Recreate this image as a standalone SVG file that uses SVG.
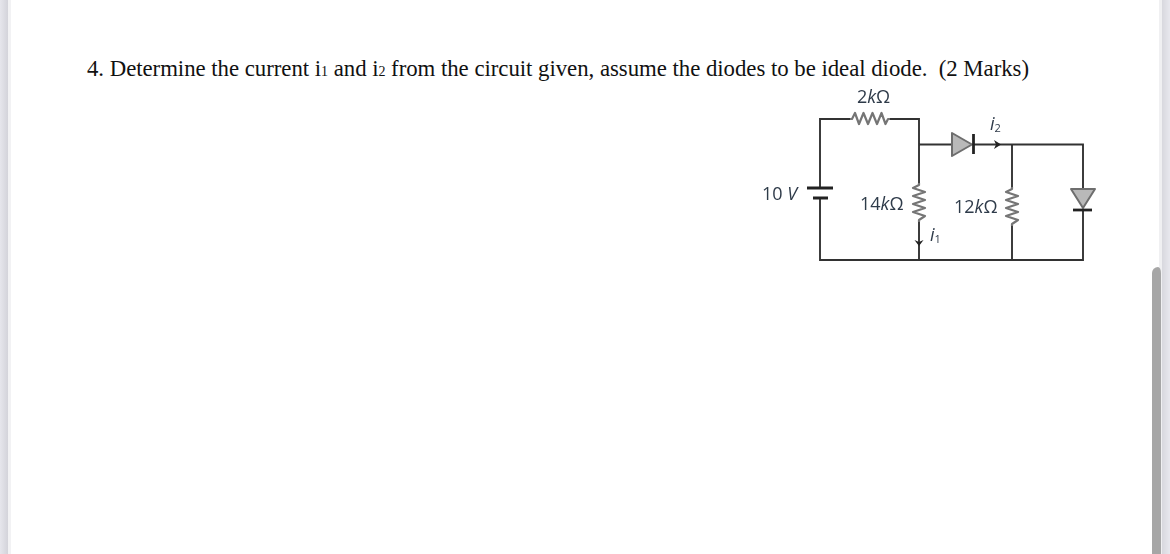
<svg xmlns="http://www.w3.org/2000/svg" width="1170" height="554" viewBox="0 0 1170 554">
<style>
.w{fill:none;stroke:#333;stroke-width:1.9}
.r{fill:none;stroke:#757575;stroke-width:2.2;stroke-linejoin:round}
.d{fill:#b9b9b9;stroke:#6e6e6e;stroke-width:2;stroke-linejoin:round}
.b{fill:none;stroke:#222;stroke-width:2.8}
.a{fill:#222}
.l{font-family:"Open Sans","Noto Sans",sans-serif;font-size:18px;fill:#2f3b4a}
.t{font-family:"Liberation Serif",serif;font-size:22.800px;fill:#111;white-space:pre}
.s{font-size:14px}
</style>
<defs>
<linearGradient id="gl" x1="0" x2="1" y1="0" y2="0"><stop offset="0" stop-color="#e6e6ec"/><stop offset="1" stop-color="#d3d3da"/></linearGradient>
<linearGradient id="gr" x1="0" x2="1" y1="0" y2="0"><stop offset="0" stop-color="#d8d8de"/><stop offset="1" stop-color="#e8e8ee"/></linearGradient>
<filter id="soft" x="-5%" y="-5%" width="110%" height="110%"><feGaussianBlur stdDeviation="0.45"/></filter>
</defs>
<rect width="1170" height="554" fill="#fff"/>
<rect x="0" y="0" width="8" height="554" fill="url(#gl)"/>
<rect x="8" y="0" width="3" height="554" fill="#f2f2f4"/>
<rect x="1159" y="0" width="3" height="554" fill="#f0f0f2"/>
<rect x="1162" y="0" width="8" height="554" fill="url(#gr)"/>
<path d="M1152 554V273a6 6 0 0 1 6-6a3 6 0 0 1 3 6V554Z" fill="#a6a6a6"/>
<text class="t" x="87" y="75.500" textLength="942" lengthAdjust="spacing">4. Determine the current i<tspan class="s">1</tspan> and i<tspan class="s">2</tspan> from the circuit given, assume the diodes to be ideal diode.  (2 Marks)</text>
<g filter="url(#soft)">
<g id="connectors">
<path class="w" d="M820 188V119H850M890 119H919V183M919 222V260M820 198V260H1083V210M919 144.500H952M974 144.500H1083V189M1012 144.500V187M1012 226V260"/>
</g>
<g id="r-2k">
<path class="r" d="M850 119L852 119L855 113L859 124L863.500 113L868 124L872.500 113L877 124L881.500 113L885.500 124L888 119L890 119"/>
<text class="l" x="857" y="102.500">2<tspan font-style="italic">k</tspan>Ω</text>
</g>
<g id="battery">
<path class="b" d="M807 188H833M813 198H828"/>
<text class="l" x="762" y="199.500">10 <tspan font-style="italic">V</tspan></text>
</g>
<g id="r-14k">
<path class="r" d="M919 183L919 185L913 188L925 192L913 196L925 200L913 204L925 208L913 212L925 216L919 220L919 222"/>
<text class="l" x="860" y="210">14<tspan font-style="italic">k</tspan>Ω</text>
</g>
<g id="i1">
<path class="a" d="M914.500 240L919 246L923.500 240L919 242Z"/>
<text class="l" x="930" y="241" font-style="italic">i<tspan font-size="11" dy="2" font-style="normal">1</tspan></text>
</g>
<g id="diode-d1">
<path class="d" d="M952 133L972 144.500L952 156Z"/>
<path class="b" d="M973.500 134V154"/>
</g>
<g id="i2">
<path class="a" d="M994 140L1001 144.500L994 149L996 144.500Z"/>
<text class="l" x="990" y="130" font-style="italic">i<tspan font-size="11" dy="2" font-style="normal">2</tspan></text>
</g>
<g id="r-12k">
<path class="r" d="M1012 187L1012 189L1006 192L1018 196L1006 200L1018 204L1006 208L1018 212L1006 216L1018 220L1012 224L1012 226"/>
<text class="l" x="954" y="212.500">12<tspan font-style="italic">k</tspan>Ω</text>
</g>
<g id="diode-d2">
<path class="d" d="M1071 189H1095L1083 208Z"/>
<path class="b" d="M1073 210H1092"/>
</g>
</g>
</svg>
